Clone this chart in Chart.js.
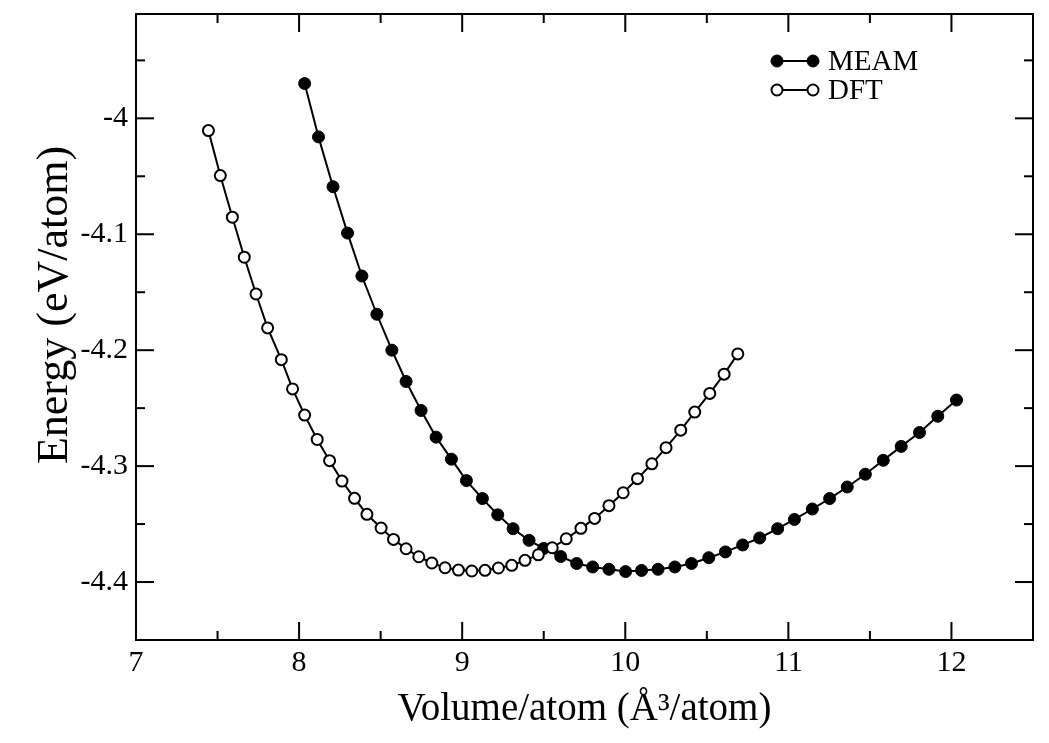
<!DOCTYPE html>
<html>
<head>
<meta charset="utf-8">
<script src="https://cdn.jsdelivr.net/npm/chart.js@4.4.1/dist/chart.umd.min.js"></script>
<style>
  html, body { margin:0; padding:0; background:#fff; }
</style>
</head>
<body>
<canvas id="chart" width="1049" height="743"></canvas>
<script>
// ---------- DATA ----------
const meamVol = [8.034,8.119,8.208,8.297,8.385,8.477,8.569,8.656,8.748,8.840,8.934,9.026,9.124,9.218,9.312,9.410,9.500,9.604,9.702,9.800,9.900,10.002,10.100,10.201,10.304,10.406,10.512,10.614,10.720,10.824,10.934,11.037,11.147,11.253,11.361,11.472,11.582,11.692,11.804,11.916,12.031];
const meamEnergy = [-3.970,-4.016,-4.059,-4.099,-4.136,-4.169,-4.200,-4.227,-4.252,-4.275,-4.294,-4.3125,-4.328,-4.342,-4.354,-4.364,-4.371,-4.378,-4.384,-4.387,-4.389,-4.391,-4.390,-4.389,-4.387,-4.384,-4.379,-4.374,-4.368,-4.362,-4.354,-4.346,-4.337,-4.328,-4.318,-4.307,-4.295,-4.283,-4.271,-4.257,-4.243];
const dftVol = [7.444,7.517,7.591,7.664,7.736,7.807,7.891,7.960,8.034,8.111,8.187,8.263,8.340,8.416,8.503,8.579,8.656,8.734,8.814,8.895,8.977,9.059,9.140,9.222,9.304,9.385,9.467,9.552,9.638,9.728,9.812,9.900,9.987,10.075,10.163,10.250,10.340,10.426,10.518,10.606,10.690];
const dftEnergy = [-4.0106,-4.0494,-4.0853,-4.1198,-4.1515,-4.1808,-4.2082,-4.2334,-4.2560,-4.2770,-4.2953,-4.3129,-4.3278,-4.3416,-4.3534,-4.3632,-4.3713,-4.3782,-4.3836,-4.3877,-4.3897,-4.3905,-4.3899,-4.3879,-4.3856,-4.3813,-4.3765,-4.3704,-4.3627,-4.3537,-4.3451,-4.3341,-4.3230,-4.3108,-4.2980,-4.2841,-4.2690,-4.2534,-4.2373,-4.2207,-4.2032];

const seriesNames = ["MEAM", "DFT"];
const xTicks = [7, 8, 9, 10, 11, 12];
const xMinorTicks = [7.5, 8.5, 9.5, 10.5, 11.5];
const yTicks = [-4, -4.1, -4.2, -4.3, -4.4];
const yTickLabels = ["-4", "-4.1", "-4.2", "-4.3", "-4.4"];
const yMinorTicks = [-3.95, -4.05, -4.15, -4.25, -4.35];

const SERIF = "'Liberation Serif', 'DejaVu Serif', serif";

// ---------- FRAME, INWARD TICKS, LEGEND ----------
const framePlugin = {
  id: "frame",
  afterDraw(chart) {
    const ctx = chart.ctx;
    const a = chart.chartArea;
    const xs = chart.scales.x, ys = chart.scales.y;
    ctx.save();
    ctx.strokeStyle = "#000";
    ctx.lineWidth = 2;
    ctx.strokeRect(a.left, a.top, a.right - a.left, a.bottom - a.top);

    const tick = (x1, y1, x2, y2) => { ctx.beginPath(); ctx.moveTo(x1, y1); ctx.lineTo(x2, y2); ctx.stroke(); };
    xTicks.forEach(v => { const p = xs.getPixelForValue(v); tick(p, a.bottom, p, a.bottom - 18); tick(p, a.top, p, a.top + 18); });
    xMinorTicks.forEach(v => { const p = xs.getPixelForValue(v); tick(p, a.bottom, p, a.bottom - 9); tick(p, a.top, p, a.top + 9); });
    yTicks.forEach(v => { const p = ys.getPixelForValue(v); tick(a.left, p, a.left + 18, p); tick(a.right, p, a.right - 18, p); });
    yMinorTicks.forEach(v => { const p = ys.getPixelForValue(v); tick(a.left, p, a.left + 9, p); tick(a.right, p, a.right - 9, p); });

    // legend: line with a marker at each end
    chart.data.datasets.forEach((ds, i) => {
      const y = 61 + i * 29;
      ctx.lineWidth = 2;
      tick(777, y, 813, y);
      [777, 813].forEach(x => {
        ctx.beginPath();
        ctx.arc(x, y, ds.pointRadius, 0, Math.PI * 2);
        ctx.fillStyle = ds.pointBackgroundColor;
        ctx.fill();
        ctx.lineWidth = ds.pointBorderWidth;
        ctx.stroke();
      });
      ctx.fillStyle = "#000";
      ctx.font = "29px " + SERIF;
      ctx.textBaseline = "middle";
      ctx.textAlign = "left";
      ctx.fillText(ds.label, 828, y + 1);
    });
    ctx.restore();
  }
};

// ---------- CHART ----------
new Chart(document.getElementById("chart"), {
  type: "line",
  data: {
    datasets: [
      {
        label: seriesNames[0],
        data: meamVol.map((v, i) => ({ x: v, y: meamEnergy[i] })),
        borderColor: "#000", borderWidth: 2,
        pointRadius: 6, pointBorderWidth: 1,
        pointBackgroundColor: "#000", pointBorderColor: "#000",
        order: 1
      },
      {
        label: seriesNames[1],
        data: dftVol.map((v, i) => ({ x: v, y: dftEnergy[i] })),
        borderColor: "#000", borderWidth: 2,
        pointRadius: 5.5, pointBorderWidth: 2,
        pointBackgroundColor: "#fff", pointBorderColor: "#000",
        order: 0
      }
    ]
  },
  options: {
    responsive: false,
    animation: false,
    layout: { padding: { top: 14, right: 16, bottom: 0, left: 0 } },
    plugins: { legend: { display: false }, tooltip: { enabled: false } },
    scales: {
      x: {
        type: "linear", min: 7, max: 12.5,
        afterBuildTicks: s => { s.ticks = xTicks.map(v => ({ value: v })); },
        afterFit: s => { s.height = 103; s.paddingLeft = 0; s.paddingRight = 0; },
        grid: { drawOnChartArea: false, drawTicks: false },
        border: { display: false },
        ticks: { color: "#000", font: { family: SERIF, size: 30 }, padding: 5, maxRotation: 0, autoSkip: false },
        title: { display: true, text: "Volume/atom (Å³/atom)", color: "#000", font: { family: SERIF, size: 39 }, padding: { top: 0, bottom: 10 } }
      },
      y: {
        type: "linear", min: -4.45, max: -3.91,
        afterBuildTicks: s => { s.ticks = yTicks.map(v => ({ value: v })); },
        afterFit: s => { s.width = 136; s.paddingTop = 0; s.paddingBottom = 0; },
        grid: { drawOnChartArea: false, drawTicks: false },
        border: { display: false },
        ticks: { color: "#000", font: { family: SERIF, size: 30 }, padding: 8,
                 callback: (v, i) => yTickLabels[i] },
        title: { display: true, text: "    Energy (eV/atom)", color: "#000", font: { family: SERIF, size: 44 }, padding: { top: 29, bottom: 0 } }
      }
    }
  },
  plugins: [framePlugin]
});
</script>
</body>
</html>
